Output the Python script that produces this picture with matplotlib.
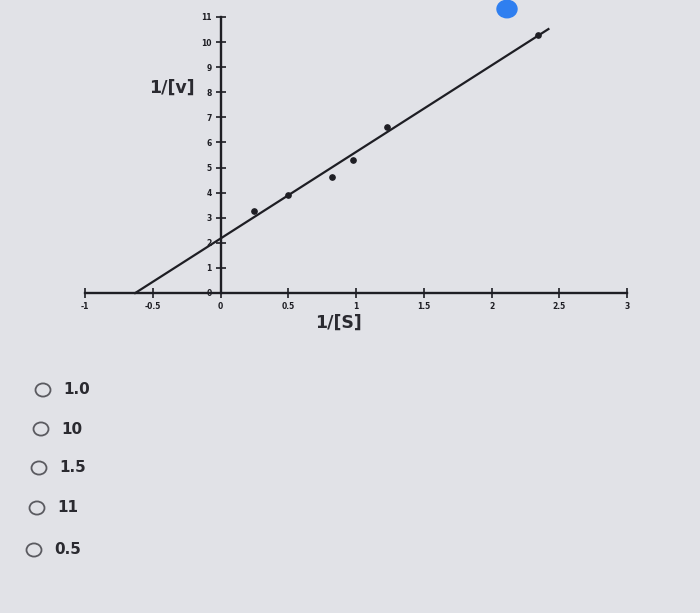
import matplotlib.pyplot as plt
import numpy as np

# Lineweaver-Burk data
inv_s = [0.25, 0.50, 0.82, 0.98, 1.23, 2.34]
inv_v = [3.27, 3.90, 4.62, 5.30, 6.60, 10.3]
fit_x = [-0.63, 2.42]
fit_slope = 3.45
fit_icpt = 2.17

x_ticks = [-1, -0.5, 0, 0.5, 1, 1.5, 2, 2.5, 3]
x_labels = ["-1", "-0.5", "0", "0.5", "1", "1.5", "2", "2.5", "3"]
y_ticks = list(range(0, 12))

choices = ["1.0", "10", "1.5", "11", "0.5"]

bg = "#e1e2e7"
ink = "#1e1e24"

fig = plt.figure(figsize=(7.0, 6.13), dpi=100)
fig.patch.set_facecolor(bg)

ax = fig.add_axes([85 / 700, 1 - 293 / 613, 542 / 700, 276 / 613])
ax.set_facecolor("none")
ax.set_xlim(-1, 3)
ax.set_ylim(0, 11)

for s in ["top", "right"]:
    ax.spines[s].set_visible(False)
ax.spines["left"].set_position(("data", 0))
ax.spines["bottom"].set_position(("data", 0))
ax.spines["left"].set_linewidth(1.7)
ax.spines["bottom"].set_linewidth(1.7)
ax.spines["left"].set_color(ink)
ax.spines["bottom"].set_color(ink)

ax.set_xticks(x_ticks, x_labels)
ax.set_yticks(y_ticks)
ax.tick_params(axis="both", direction="inout", length=7, width=1.2,
               color=ink, labelsize=5.5, labelcolor=ink, pad=3)
for lab in ax.get_xticklabels() + ax.get_yticklabels():
    lab.set_fontweight("bold")

xs = np.array(fit_x)
ax.plot(xs, fit_icpt + fit_slope * xs, color=ink, lw=1.6, clip_on=False)
ax.plot(inv_s, inv_v, "o", color=ink, ms=3.8, clip_on=False)

fig.text(172 / 700, 1 - 88 / 613, "1/[v]", fontsize=12.5, fontweight="bold",
         color="#2a2a30", ha="center", va="center")
fig.text(338 / 700, 1 - 323 / 613, "1/[S]", fontsize=12.5, fontweight="bold",
         color="#2a2a30", ha="center", va="center")

# blue dot near the top edge
fig.patches.append(plt.Circle((507 / 700, 1 - 9 / 613), 10 / 700,
                              transform=fig.transFigure, color="#2f7ff0",
                              figure=fig))

# multiple choice options
rows_y = [390, 429, 468, 508, 550]
rows_x = [43, 41, 39, 37, 34]
for lab, ry, rx in zip(choices, rows_y, rows_x):
    c = plt.Circle((rx / 700, 1 - ry / 613), 7.5 / 700,
                   transform=fig.transFigure, fill=False,
                   edgecolor="#5a5a60", lw=1.3, figure=fig)
    fig.patches.append(c)
    fig.text((rx + 20) / 700, 1 - ry / 613, lab, fontsize=11,
             fontweight="semibold", color="#2a2a30", ha="left", va="center")

fig.savefig("out.png", dpi=100, facecolor=bg)
